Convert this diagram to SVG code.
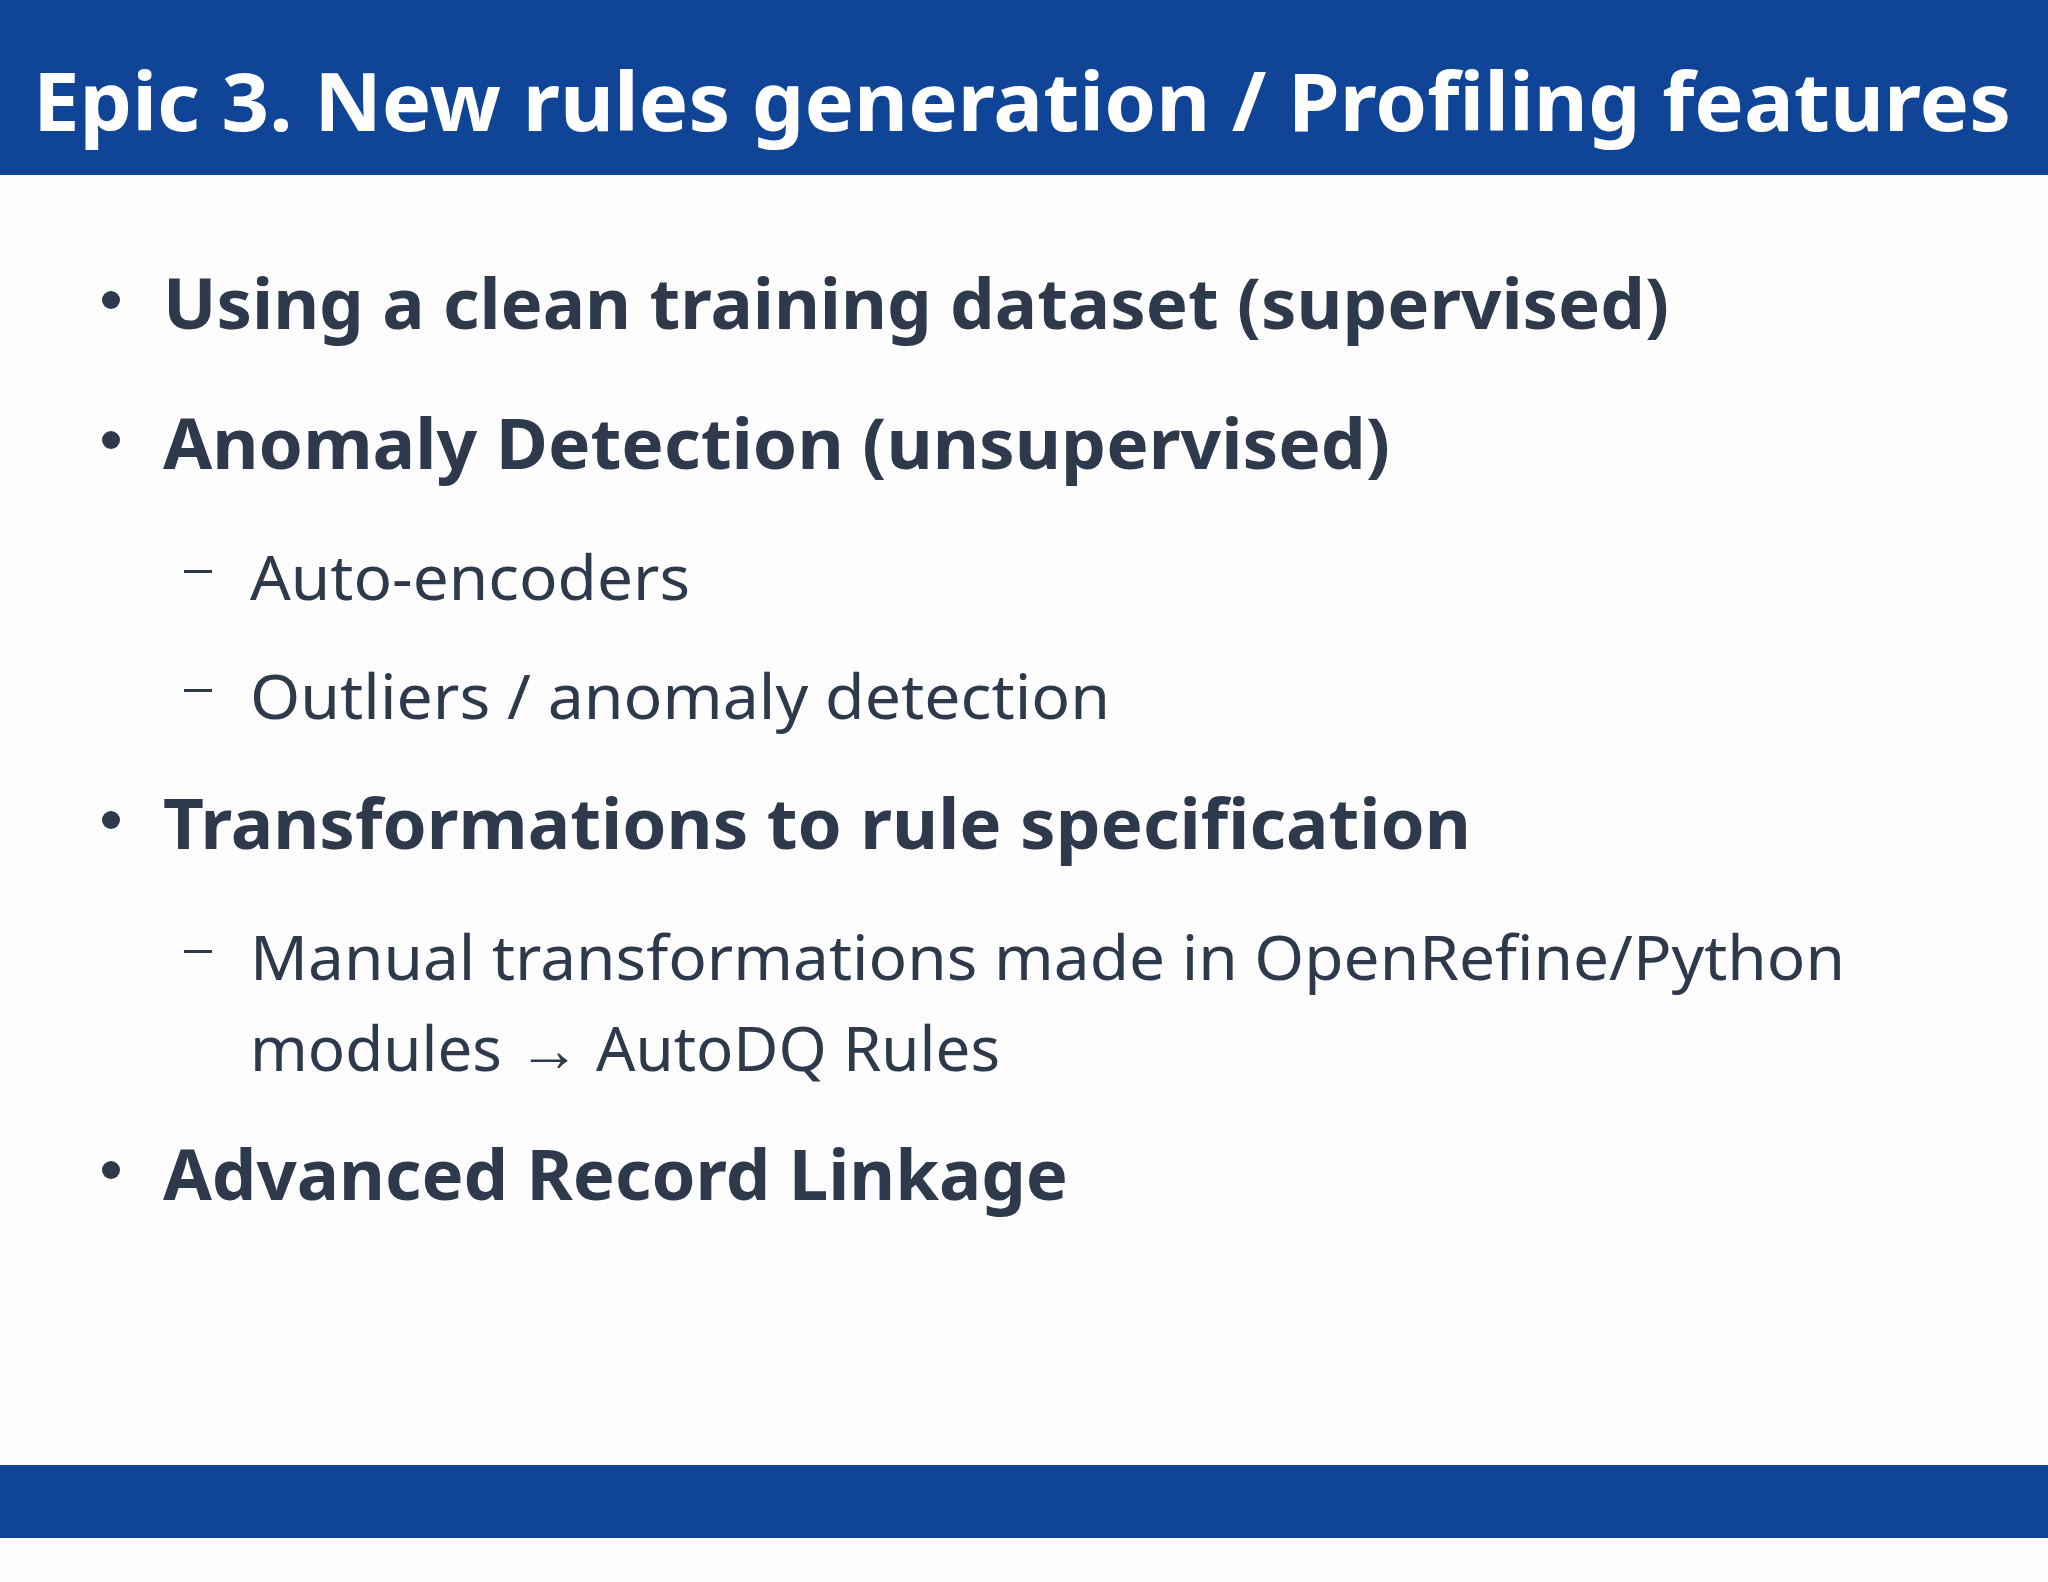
<svg xmlns="http://www.w3.org/2000/svg" width="2048" height="1582" viewBox="0 0 2048 1582">
<style>
.t{font-family:"Noto Sans","Open Sans",sans-serif;fill:#2e3a4b}
.b{font-weight:bold;font-size:70px}
.s{font-size:62px}
</style>
<rect width="2048" height="1582" fill="#fdfdfd"/>
<rect x="0" y="0" width="2048" height="175" fill="#0f4496"/>
<text x="33" y="131" font-family="'Noto Sans','Open Sans',sans-serif" font-weight="bold" font-size="80" fill="#fff" textLength="1978" lengthAdjust="spacingAndGlyphs">Epic 3. New rules generation / Profiling features</text>
<g fill="#2e3a4b">
<circle cx="111" cy="300" r="9"/><circle cx="111" cy="440" r="9"/><circle cx="111" cy="820" r="9"/><circle cx="111" cy="1170" r="9"/>
<rect x="184" y="570" width="28" height="3"/><rect x="184" y="689" width="28" height="3"/><rect x="184" y="950" width="28" height="3"/>
</g>
<text class="t b" x="163" y="329" textLength="1506" lengthAdjust="spacingAndGlyphs">Using a clean training dataset (supervised)</text>
<text class="t b" x="163" y="469" textLength="1227" lengthAdjust="spacingAndGlyphs">Anomaly Detection (unsupervised)</text>
<text class="t s" x="250" y="600" textLength="440" lengthAdjust="spacingAndGlyphs">Auto-encoders</text>
<text class="t s" x="250" y="719" textLength="860" lengthAdjust="spacingAndGlyphs">Outliers / anomaly detection</text>
<text class="t b" x="163" y="849" textLength="1308" lengthAdjust="spacingAndGlyphs">Transformations to rule specification</text>
<text class="t s" x="250" y="980" textLength="1595" lengthAdjust="spacingAndGlyphs">Manual transformations made in OpenRefine/Python</text>
<text class="t s" x="250" y="1071" textLength="750" lengthAdjust="spacingAndGlyphs">modules → AutoDQ Rules</text>
<text class="t b" x="163" y="1200" textLength="905" lengthAdjust="spacingAndGlyphs">Advanced Record Linkage</text>
<rect x="0" y="1465" width="2048" height="73" fill="#0f4496"/>
</svg>
